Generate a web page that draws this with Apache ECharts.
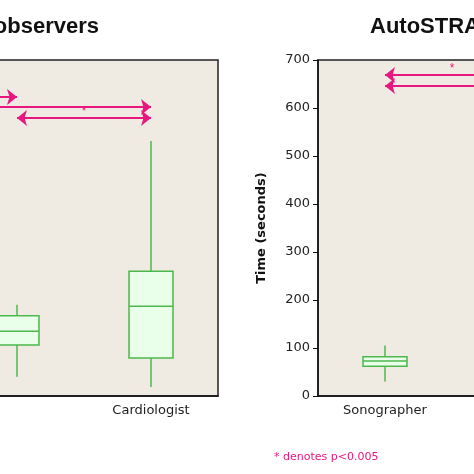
<!DOCTYPE html>
<html><head><meta charset="utf-8">
<script src="https://cdn.jsdelivr.net/npm/echarts@6/dist/echarts.min.js"></script>
<style>html,body{margin:0;padding:0;background:#fff}#c{width:474px;height:474px}</style>
</head><body><div id="c"></div>
<script>
const categories = ['Sonographer', 'Medical Student', 'Cardiologist'];
const rightCategories = ['Sonographer', 'Medical Student', 'Cardiologist'];
// [min, Q1, median, Q3, max]
const leftBoxes = [[30, 62, 73, 82, 105], [40, 106, 135, 167, 190], [19, 79, 187, 260, 531]];
const rightBoxes = [[30, 62, 73, 82, 105]];
const yTicks = [0, 100, 200, 300, 400, 500, 600, 700];
// [fromIndex, toIndex, value, startArrow, endArrow, star]
const leftArrows = [[0, 1, 623, 1, 1, 0], [0, 2, 602, 1, 1, 0], [1, 2, 579, 1, 1, 1]];
const rightArrows = [[0, 1, 669, 1, 1, 1], [0, 2, 646, 1, 1, 0], [0, 3, 625, 1, 1, 0], [0, 4, 602, 1, 1, 0]];

const pink = '#e8177f', green = '#4cb84c';
function ml(arrs) {
  return {
    silent: true, animation: false,
    lineStyle: {color: pink, width: 2, type: 'solid'},
    symbolSize: [12, 10],
    data: arrs.map(a => [
      {coord: [a[0], a[2]], symbol: a[3] ? 'arrow' : 'none'},
      {coord: [a[1], a[2]], symbol: a[4] ? 'arrow' : 'none',
       label: {show: !!a[5], position: 'middle', formatter: '*', color: pink, fontSize: 12, distance: 0}}
    ]),
    label: {show: false}
  };
}
function renderBox(params, api) {
  const i = api.value(0);
  const p = k => api.coord([i, api.value(k)]);
  const lo = p(1), q1 = p(2), md = p(3), q3 = p(4), hi = p(5);
  const x = lo[0], hw = 22;
  const ls = {stroke: green, lineWidth: 1.5, fill: null};
  return {type: 'group', children: [
    {type: 'line', shape: {x1: x, y1: hi[1], x2: x, y2: q3[1]}, style: ls},
    {type: 'line', shape: {x1: x, y1: q1[1], x2: x, y2: lo[1]}, style: ls},
    {type: 'rect', shape: {x: x - hw, y: q3[1], width: 2 * hw, height: q1[1] - q3[1]}, style: {stroke: green, lineWidth: 1.5, fill: '#eaffea'}},
    {type: 'line', shape: {x1: x - hw, y1: md[1], x2: x + hw, y2: md[1]}, style: ls}
  ]};
}
const toData = boxes => boxes.map((b, i) => [i].concat(b));
const xa = (g, cats) => ({
  type: 'category', gridIndex: g, data: cats,
  axisLine: {lineStyle: {color: '#111', width: 1.5}},
  axisTick: {alignWithLabel: true, lineStyle: {color: '#111'}},
  axisLabel: {color: '#222', fontSize: 13, fontFamily: 'DejaVu Sans', margin: 8}
});
const ya = (g, show) => ({
  type: 'value', gridIndex: g, min: 0, max: 700, interval: 100,
  splitLine: {show: false},
  axisLine: {show: true, lineStyle: {color: '#111', width: 1.5}},
  axisTick: {show: true, lineStyle: {color: '#111'}},
  axisLabel: {show: show, color: '#222', fontSize: 13, fontFamily: 'DejaVu Sans'},
  name: show ? 'Time (seconds)' : '', nameLocation: 'middle', nameGap: 50,
  nameTextStyle: {fontWeight: 'bold', fontSize: 13, color: '#111', fontFamily: 'DejaVu Sans'}
});
const chart = echarts.init(document.getElementById('c'));
chart.setOption({
  animation: false,
  grid: [
    {left: -184, top: 60, width: 402, height: 336, outerBoundsMode: 'none', containLabel: false, show: true, backgroundColor: '#efebe2', borderColor: '#222', borderWidth: 1.5},
    {left: 318, top: 60, width: 402, height: 336, outerBoundsMode: 'none', containLabel: false, show: true, backgroundColor: '#efebe2', borderColor: '#222', borderWidth: 1.5}
  ],
  xAxis: [xa(0, categories), xa(1, rightCategories)],
  yAxis: [ya(0, false), ya(1, true)],
  graphic: [
    {type: 'text', right: 474 - 99, top: 16, style: {text: 'Inter-observers', font: 'bold 22px Liberation Sans', fill: '#111'}},
    {type: 'text', left: 370, top: 16, style: {text: 'AutoSTRAIN', font: 'bold 22px Liberation Sans', fill: '#111'}},
    {type: 'text', left: 274, top: 452, style: {text: '* denotes p<0.005', font: '11px DejaVu Sans', fill: pink}}
  ],
  series: [
    {type: 'custom', xAxisIndex: 0, yAxisIndex: 0, data: toData(leftBoxes), renderItem: renderBox, clip: false, markLine: ml(leftArrows)},
    {type: 'custom', xAxisIndex: 1, yAxisIndex: 1, data: toData(rightBoxes), renderItem: renderBox, clip: false, markLine: ml(rightArrows)}
  ]
});
</script></body></html>
